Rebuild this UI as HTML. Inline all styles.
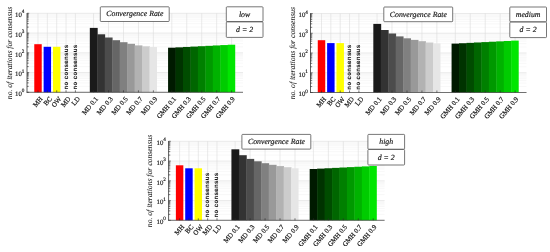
<!DOCTYPE html>
<html><head><meta charset="utf-8"><title>Convergence Rate</title>
<style>
html,body{margin:0;padding:0;background:#fff;}
svg{display:block;}
.mg{stroke:#f1f1f1;stroke-width:0.5;}
.Mg{stroke:#dcdcdc;stroke-width:0.6;}
.ax{stroke:#333;stroke-width:0.8;}
.axb{stroke:#3c3c3c;stroke-width:0.7;}
.tk{stroke:#2a2a2a;stroke-width:0.6;}
.tk2{stroke:#222;stroke-width:0.6;}
.bx{fill:#fff;stroke:#4a4a4a;stroke-width:0.75;}
text{fill:#1a1a1a;stroke:#1a1a1a;stroke-width:0.18px;text-rendering:geometricPrecision;}
.bt{font-family:"Liberation Serif",serif;font-style:italic;font-size:7.8px;}
.yt{font-family:"Liberation Serif",serif;font-style:italic;font-size:7.65px;fill:#222;stroke-width:0.06px;}
.yl{font-family:"Liberation Serif",serif;font-size:6.8px;}
.ye{font-family:"Liberation Serif",serif;font-size:5.2px;}
.xl{font-family:"Liberation Serif",serif;font-size:6.8px;stroke-width:0.22px;}
.nc{font-family:"Liberation Sans",sans-serif;font-weight:bold;font-size:6.1px;letter-spacing:0.34px;fill:#111;stroke-width:0.05px;}
</style></head>
<body>
<svg width="550" height="252" viewBox="0 0 550 252">
<rect width="550" height="252" fill="#fff"/>
<g transform="translate(0.00,0.00)">
<line x1="27.0" x2="243.0" y1="86.35" y2="86.35" class="mg"/>
<line x1="27.0" x2="243.0" y1="82.88" y2="82.88" class="mg"/>
<line x1="27.0" x2="243.0" y1="80.41" y2="80.41" class="mg"/>
<line x1="27.0" x2="243.0" y1="78.50" y2="78.50" class="mg"/>
<line x1="27.0" x2="243.0" y1="76.93" y2="76.93" class="mg"/>
<line x1="27.0" x2="243.0" y1="75.61" y2="75.61" class="mg"/>
<line x1="27.0" x2="243.0" y1="74.46" y2="74.46" class="mg"/>
<line x1="27.0" x2="243.0" y1="73.45" y2="73.45" class="mg"/>
<line x1="27.0" x2="243.0" y1="66.60" y2="66.60" class="mg"/>
<line x1="27.0" x2="243.0" y1="63.13" y2="63.13" class="mg"/>
<line x1="27.0" x2="243.0" y1="60.66" y2="60.66" class="mg"/>
<line x1="27.0" x2="243.0" y1="58.75" y2="58.75" class="mg"/>
<line x1="27.0" x2="243.0" y1="57.18" y2="57.18" class="mg"/>
<line x1="27.0" x2="243.0" y1="55.86" y2="55.86" class="mg"/>
<line x1="27.0" x2="243.0" y1="54.71" y2="54.71" class="mg"/>
<line x1="27.0" x2="243.0" y1="53.70" y2="53.70" class="mg"/>
<line x1="27.0" x2="243.0" y1="46.85" y2="46.85" class="mg"/>
<line x1="27.0" x2="243.0" y1="43.38" y2="43.38" class="mg"/>
<line x1="27.0" x2="243.0" y1="40.91" y2="40.91" class="mg"/>
<line x1="27.0" x2="243.0" y1="39.00" y2="39.00" class="mg"/>
<line x1="27.0" x2="243.0" y1="37.43" y2="37.43" class="mg"/>
<line x1="27.0" x2="243.0" y1="36.11" y2="36.11" class="mg"/>
<line x1="27.0" x2="243.0" y1="34.96" y2="34.96" class="mg"/>
<line x1="27.0" x2="243.0" y1="33.95" y2="33.95" class="mg"/>
<line x1="27.0" x2="243.0" y1="27.10" y2="27.10" class="mg"/>
<line x1="27.0" x2="243.0" y1="23.63" y2="23.63" class="mg"/>
<line x1="27.0" x2="243.0" y1="21.16" y2="21.16" class="mg"/>
<line x1="27.0" x2="243.0" y1="19.25" y2="19.25" class="mg"/>
<line x1="27.0" x2="243.0" y1="17.68" y2="17.68" class="mg"/>
<line x1="27.0" x2="243.0" y1="16.36" y2="16.36" class="mg"/>
<line x1="27.0" x2="243.0" y1="15.21" y2="15.21" class="mg"/>
<line x1="27.0" x2="243.0" y1="14.20" y2="14.20" class="mg"/>
<line x1="27.0" x2="243.0" y1="92.30" y2="92.30" class="Mg"/>
<line x1="27.0" x2="243.0" y1="72.55" y2="72.55" class="Mg"/>
<line x1="27.0" x2="243.0" y1="52.80" y2="52.80" class="Mg"/>
<line x1="27.0" x2="243.0" y1="33.05" y2="33.05" class="Mg"/>
<line x1="27.0" x2="243.0" y1="13.30" y2="13.30" class="Mg"/>
<line x1="38.00" x2="38.00" y1="13.3" y2="92.3" class="Mg"/>
<line x1="47.35" x2="47.35" y1="13.3" y2="92.3" class="Mg"/>
<line x1="56.70" x2="56.70" y1="13.3" y2="92.3" class="Mg"/>
<line x1="66.05" x2="66.05" y1="13.3" y2="92.3" class="Mg"/>
<line x1="75.40" x2="75.40" y1="13.3" y2="92.3" class="Mg"/>
<line x1="93.55" x2="93.55" y1="13.3" y2="92.3" class="Mg"/>
<line x1="108.51" x2="108.51" y1="13.3" y2="92.3" class="Mg"/>
<line x1="123.47" x2="123.47" y1="13.3" y2="92.3" class="Mg"/>
<line x1="138.43" x2="138.43" y1="13.3" y2="92.3" class="Mg"/>
<line x1="153.39" x2="153.39" y1="13.3" y2="92.3" class="Mg"/>
<line x1="171.80" x2="171.80" y1="13.3" y2="92.3" class="Mg"/>
<line x1="186.76" x2="186.76" y1="13.3" y2="92.3" class="Mg"/>
<line x1="201.72" x2="201.72" y1="13.3" y2="92.3" class="Mg"/>
<line x1="216.68" x2="216.68" y1="13.3" y2="92.3" class="Mg"/>
<line x1="231.64" x2="231.64" y1="13.3" y2="92.3" class="Mg"/>
<rect x="34.27" y="44.20" width="7.46" height="48.10" fill="#ff0000"/>
<rect x="43.62" y="46.80" width="7.46" height="45.50" fill="#0000ff"/>
<rect x="52.97" y="46.80" width="7.46" height="45.50" fill="#ffff00"/>
<rect x="89.82" y="27.90" width="7.86" height="64.40" fill="rgb(26,26,26)"/>
<rect x="97.28" y="34.30" width="7.86" height="58.00" fill="rgb(51,51,51)"/>
<rect x="104.74" y="37.50" width="7.86" height="54.80" fill="rgb(76,76,76)"/>
<rect x="112.20" y="40.20" width="7.86" height="52.10" fill="rgb(102,102,102)"/>
<rect x="119.66" y="42.20" width="7.86" height="50.10" fill="rgb(128,128,128)"/>
<rect x="127.12" y="43.80" width="7.86" height="48.50" fill="rgb(153,153,153)"/>
<rect x="134.58" y="45.40" width="7.86" height="46.90" fill="rgb(178,178,178)"/>
<rect x="142.04" y="46.30" width="7.86" height="46.00" fill="rgb(204,204,204)"/>
<rect x="149.50" y="47.00" width="7.46" height="45.30" fill="rgb(230,230,230)"/>
<rect x="168.07" y="47.70" width="7.86" height="44.60" fill="rgb(0,26,0)"/>
<rect x="175.53" y="47.33" width="7.86" height="44.97" fill="rgb(0,51,0)"/>
<rect x="182.99" y="46.95" width="7.86" height="45.35" fill="rgb(0,76,0)"/>
<rect x="190.45" y="46.58" width="7.86" height="45.72" fill="rgb(0,102,0)"/>
<rect x="197.91" y="46.20" width="7.86" height="46.10" fill="rgb(0,128,0)"/>
<rect x="205.37" y="45.83" width="7.86" height="46.47" fill="rgb(0,153,0)"/>
<rect x="212.83" y="45.45" width="7.86" height="46.85" fill="rgb(0,178,0)"/>
<rect x="220.29" y="45.08" width="7.86" height="47.22" fill="rgb(0,204,0)"/>
<rect x="227.75" y="44.70" width="7.46" height="47.60" fill="rgb(0,230,0)"/>
<text class="nc" transform="translate(67.55,89.45) rotate(-90)">no consensus</text>
<text class="nc" transform="translate(76.65,89.45) rotate(-90)">no consensus</text>
<line x1="27.0" x2="27.0" y1="13.0" y2="92.64999999999999" class="ax"/>
<line x1="26.6" x2="243.0" y1="92.3" y2="92.3" class="axb"/>
<line x1="27.0" x2="29.2" y1="92.30" y2="92.30" class="tk"/>
<text class="yl" x="21.80" y="96.15" text-anchor="end">10</text>
<text class="ye" x="21.70" y="92.35">0</text>
<line x1="27.0" x2="29.2" y1="72.55" y2="72.55" class="tk"/>
<text class="yl" x="21.80" y="76.40" text-anchor="end">10</text>
<text class="ye" x="21.70" y="72.60">1</text>
<line x1="27.0" x2="29.2" y1="52.80" y2="52.80" class="tk"/>
<text class="yl" x="21.80" y="56.65" text-anchor="end">10</text>
<text class="ye" x="21.70" y="52.85">2</text>
<line x1="27.0" x2="29.2" y1="33.05" y2="33.05" class="tk"/>
<text class="yl" x="21.80" y="36.90" text-anchor="end">10</text>
<text class="ye" x="21.70" y="33.10">3</text>
<line x1="27.0" x2="29.2" y1="13.30" y2="13.30" class="tk"/>
<text class="yl" x="21.80" y="17.15" text-anchor="end">10</text>
<text class="ye" x="21.70" y="13.35">4</text>
<line x1="27.0" x2="28.7" y1="86.35" y2="86.35" class="tk2"/>
<line x1="27.0" x2="28.7" y1="82.88" y2="82.88" class="tk2"/>
<line x1="27.0" x2="28.7" y1="80.41" y2="80.41" class="tk2"/>
<line x1="27.0" x2="28.7" y1="78.50" y2="78.50" class="tk2"/>
<line x1="27.0" x2="28.7" y1="76.93" y2="76.93" class="tk2"/>
<line x1="27.0" x2="28.7" y1="75.61" y2="75.61" class="tk2"/>
<line x1="27.0" x2="28.7" y1="74.46" y2="74.46" class="tk2"/>
<line x1="27.0" x2="28.7" y1="73.45" y2="73.45" class="tk2"/>
<line x1="27.0" x2="28.7" y1="66.60" y2="66.60" class="tk2"/>
<line x1="27.0" x2="28.7" y1="63.13" y2="63.13" class="tk2"/>
<line x1="27.0" x2="28.7" y1="60.66" y2="60.66" class="tk2"/>
<line x1="27.0" x2="28.7" y1="58.75" y2="58.75" class="tk2"/>
<line x1="27.0" x2="28.7" y1="57.18" y2="57.18" class="tk2"/>
<line x1="27.0" x2="28.7" y1="55.86" y2="55.86" class="tk2"/>
<line x1="27.0" x2="28.7" y1="54.71" y2="54.71" class="tk2"/>
<line x1="27.0" x2="28.7" y1="53.70" y2="53.70" class="tk2"/>
<line x1="27.0" x2="28.7" y1="46.85" y2="46.85" class="tk2"/>
<line x1="27.0" x2="28.7" y1="43.38" y2="43.38" class="tk2"/>
<line x1="27.0" x2="28.7" y1="40.91" y2="40.91" class="tk2"/>
<line x1="27.0" x2="28.7" y1="39.00" y2="39.00" class="tk2"/>
<line x1="27.0" x2="28.7" y1="37.43" y2="37.43" class="tk2"/>
<line x1="27.0" x2="28.7" y1="36.11" y2="36.11" class="tk2"/>
<line x1="27.0" x2="28.7" y1="34.96" y2="34.96" class="tk2"/>
<line x1="27.0" x2="28.7" y1="33.95" y2="33.95" class="tk2"/>
<line x1="27.0" x2="28.7" y1="27.10" y2="27.10" class="tk2"/>
<line x1="27.0" x2="28.7" y1="23.63" y2="23.63" class="tk2"/>
<line x1="27.0" x2="28.7" y1="21.16" y2="21.16" class="tk2"/>
<line x1="27.0" x2="28.7" y1="19.25" y2="19.25" class="tk2"/>
<line x1="27.0" x2="28.7" y1="17.68" y2="17.68" class="tk2"/>
<line x1="27.0" x2="28.7" y1="16.36" y2="16.36" class="tk2"/>
<line x1="27.0" x2="28.7" y1="15.21" y2="15.21" class="tk2"/>
<line x1="27.0" x2="28.7" y1="14.20" y2="14.20" class="tk2"/>
<line x1="38.00" x2="38.00" y1="92.3" y2="90.3" class="tk"/>
<text class="xl" text-anchor="end" transform="translate(43.00,99.10) rotate(-50)">MH</text>
<line x1="47.35" x2="47.35" y1="92.3" y2="90.3" class="tk"/>
<text class="xl" text-anchor="end" transform="translate(52.35,99.10) rotate(-50)">BC</text>
<line x1="56.70" x2="56.70" y1="92.3" y2="90.3" class="tk"/>
<text class="xl" text-anchor="end" transform="translate(61.70,99.10) rotate(-50)">OW</text>
<line x1="66.05" x2="66.05" y1="92.3" y2="90.3" class="tk"/>
<text class="xl" text-anchor="end" transform="translate(70.95,99.10) rotate(-50)">MD</text>
<line x1="75.40" x2="75.40" y1="92.3" y2="90.3" class="tk"/>
<text class="xl" text-anchor="end" transform="translate(80.30,99.10) rotate(-50)">LD</text>
<line x1="93.55" x2="93.55" y1="92.3" y2="90.3" class="tk"/>
<text class="xl" text-anchor="end" transform="translate(98.55,99.10) rotate(-50)">MD 0.1</text>
<line x1="108.51" x2="108.51" y1="92.3" y2="90.3" class="tk"/>
<text class="xl" text-anchor="end" transform="translate(113.31,99.10) rotate(-50)">MD 0.3</text>
<line x1="123.47" x2="123.47" y1="92.3" y2="90.3" class="tk"/>
<text class="xl" text-anchor="end" transform="translate(128.07,99.10) rotate(-50)">MD 0.5</text>
<line x1="138.43" x2="138.43" y1="92.3" y2="90.3" class="tk"/>
<text class="xl" text-anchor="end" transform="translate(142.83,99.10) rotate(-50)">MD 0.7</text>
<line x1="153.39" x2="153.39" y1="92.3" y2="90.3" class="tk"/>
<text class="xl" text-anchor="end" transform="translate(157.59,99.10) rotate(-50)">MD 0.9</text>
<line x1="171.80" x2="171.80" y1="92.3" y2="90.3" class="tk"/>
<text class="xl" text-anchor="end" transform="translate(176.40,99.10) rotate(-50)">GMH 0.1</text>
<line x1="186.76" x2="186.76" y1="92.3" y2="90.3" class="tk"/>
<text class="xl" text-anchor="end" transform="translate(191.16,99.10) rotate(-50)">GMH 0.3</text>
<line x1="201.72" x2="201.72" y1="92.3" y2="90.3" class="tk"/>
<text class="xl" text-anchor="end" transform="translate(205.82,99.10) rotate(-50)">GMH 0.5</text>
<line x1="216.68" x2="216.68" y1="92.3" y2="90.3" class="tk"/>
<text class="xl" text-anchor="end" transform="translate(220.58,99.10) rotate(-50)">GMH 0.7</text>
<line x1="231.64" x2="231.64" y1="92.3" y2="90.3" class="tk"/>
<text class="xl" text-anchor="end" transform="translate(235.24,99.10) rotate(-50)">GMH 0.9</text>
<text class="yt" text-anchor="middle" transform="translate(11.90,53.0) rotate(-90)">no. of iterations for consensus</text>
<g transform="translate(0,0.0)">
<rect x="100.3" y="6.8" width="68.9" height="14.7" rx="0.8" class="bx"/>
<text class="bt" text-anchor="middle" x="134.9" y="16.45">Convergence Rate</text>
<rect x="226.3" y="6.8" width="36.7" height="14.8" rx="0.8" class="bx"/>
<rect x="226.3" y="21.9" width="36.7" height="15.5" rx="0.8" class="bx"/>
<text class="bt" text-anchor="middle" x="244.6" y="16.5">low</text>
<text class="bt" text-anchor="middle" x="244.6" y="32.0">d = 2</text>
</g>
</g>
<g transform="translate(283.50,0.20)">
<line x1="27.0" x2="243.0" y1="86.35" y2="86.35" class="mg"/>
<line x1="27.0" x2="243.0" y1="82.88" y2="82.88" class="mg"/>
<line x1="27.0" x2="243.0" y1="80.41" y2="80.41" class="mg"/>
<line x1="27.0" x2="243.0" y1="78.50" y2="78.50" class="mg"/>
<line x1="27.0" x2="243.0" y1="76.93" y2="76.93" class="mg"/>
<line x1="27.0" x2="243.0" y1="75.61" y2="75.61" class="mg"/>
<line x1="27.0" x2="243.0" y1="74.46" y2="74.46" class="mg"/>
<line x1="27.0" x2="243.0" y1="73.45" y2="73.45" class="mg"/>
<line x1="27.0" x2="243.0" y1="66.60" y2="66.60" class="mg"/>
<line x1="27.0" x2="243.0" y1="63.13" y2="63.13" class="mg"/>
<line x1="27.0" x2="243.0" y1="60.66" y2="60.66" class="mg"/>
<line x1="27.0" x2="243.0" y1="58.75" y2="58.75" class="mg"/>
<line x1="27.0" x2="243.0" y1="57.18" y2="57.18" class="mg"/>
<line x1="27.0" x2="243.0" y1="55.86" y2="55.86" class="mg"/>
<line x1="27.0" x2="243.0" y1="54.71" y2="54.71" class="mg"/>
<line x1="27.0" x2="243.0" y1="53.70" y2="53.70" class="mg"/>
<line x1="27.0" x2="243.0" y1="46.85" y2="46.85" class="mg"/>
<line x1="27.0" x2="243.0" y1="43.38" y2="43.38" class="mg"/>
<line x1="27.0" x2="243.0" y1="40.91" y2="40.91" class="mg"/>
<line x1="27.0" x2="243.0" y1="39.00" y2="39.00" class="mg"/>
<line x1="27.0" x2="243.0" y1="37.43" y2="37.43" class="mg"/>
<line x1="27.0" x2="243.0" y1="36.11" y2="36.11" class="mg"/>
<line x1="27.0" x2="243.0" y1="34.96" y2="34.96" class="mg"/>
<line x1="27.0" x2="243.0" y1="33.95" y2="33.95" class="mg"/>
<line x1="27.0" x2="243.0" y1="27.10" y2="27.10" class="mg"/>
<line x1="27.0" x2="243.0" y1="23.63" y2="23.63" class="mg"/>
<line x1="27.0" x2="243.0" y1="21.16" y2="21.16" class="mg"/>
<line x1="27.0" x2="243.0" y1="19.25" y2="19.25" class="mg"/>
<line x1="27.0" x2="243.0" y1="17.68" y2="17.68" class="mg"/>
<line x1="27.0" x2="243.0" y1="16.36" y2="16.36" class="mg"/>
<line x1="27.0" x2="243.0" y1="15.21" y2="15.21" class="mg"/>
<line x1="27.0" x2="243.0" y1="14.20" y2="14.20" class="mg"/>
<line x1="27.0" x2="243.0" y1="92.30" y2="92.30" class="Mg"/>
<line x1="27.0" x2="243.0" y1="72.55" y2="72.55" class="Mg"/>
<line x1="27.0" x2="243.0" y1="52.80" y2="52.80" class="Mg"/>
<line x1="27.0" x2="243.0" y1="33.05" y2="33.05" class="Mg"/>
<line x1="27.0" x2="243.0" y1="13.30" y2="13.30" class="Mg"/>
<line x1="38.00" x2="38.00" y1="13.3" y2="92.3" class="Mg"/>
<line x1="47.35" x2="47.35" y1="13.3" y2="92.3" class="Mg"/>
<line x1="56.70" x2="56.70" y1="13.3" y2="92.3" class="Mg"/>
<line x1="66.05" x2="66.05" y1="13.3" y2="92.3" class="Mg"/>
<line x1="75.40" x2="75.40" y1="13.3" y2="92.3" class="Mg"/>
<line x1="93.55" x2="93.55" y1="13.3" y2="92.3" class="Mg"/>
<line x1="108.51" x2="108.51" y1="13.3" y2="92.3" class="Mg"/>
<line x1="123.47" x2="123.47" y1="13.3" y2="92.3" class="Mg"/>
<line x1="138.43" x2="138.43" y1="13.3" y2="92.3" class="Mg"/>
<line x1="153.39" x2="153.39" y1="13.3" y2="92.3" class="Mg"/>
<line x1="171.80" x2="171.80" y1="13.3" y2="92.3" class="Mg"/>
<line x1="186.76" x2="186.76" y1="13.3" y2="92.3" class="Mg"/>
<line x1="201.72" x2="201.72" y1="13.3" y2="92.3" class="Mg"/>
<line x1="216.68" x2="216.68" y1="13.3" y2="92.3" class="Mg"/>
<line x1="231.64" x2="231.64" y1="13.3" y2="92.3" class="Mg"/>
<rect x="34.27" y="40.00" width="7.46" height="52.30" fill="#ff0000"/>
<rect x="43.62" y="42.90" width="7.46" height="49.40" fill="#0000ff"/>
<rect x="52.97" y="42.90" width="7.46" height="49.40" fill="#ffff00"/>
<rect x="89.82" y="23.70" width="7.86" height="68.60" fill="rgb(26,26,26)"/>
<rect x="97.28" y="29.80" width="7.86" height="62.50" fill="rgb(51,51,51)"/>
<rect x="104.74" y="33.30" width="7.86" height="59.00" fill="rgb(76,76,76)"/>
<rect x="112.20" y="36.20" width="7.86" height="56.10" fill="rgb(102,102,102)"/>
<rect x="119.66" y="38.10" width="7.86" height="54.20" fill="rgb(128,128,128)"/>
<rect x="127.12" y="39.70" width="7.86" height="52.60" fill="rgb(153,153,153)"/>
<rect x="134.58" y="41.00" width="7.86" height="51.30" fill="rgb(178,178,178)"/>
<rect x="142.04" y="42.30" width="7.86" height="50.00" fill="rgb(204,204,204)"/>
<rect x="149.50" y="43.20" width="7.46" height="49.10" fill="rgb(230,230,230)"/>
<rect x="168.07" y="43.40" width="7.86" height="48.90" fill="rgb(0,26,0)"/>
<rect x="175.53" y="43.02" width="7.86" height="49.27" fill="rgb(0,51,0)"/>
<rect x="182.99" y="42.65" width="7.86" height="49.65" fill="rgb(0,76,0)"/>
<rect x="190.45" y="42.27" width="7.86" height="50.02" fill="rgb(0,102,0)"/>
<rect x="197.91" y="41.90" width="7.86" height="50.40" fill="rgb(0,128,0)"/>
<rect x="205.37" y="41.52" width="7.86" height="50.77" fill="rgb(0,153,0)"/>
<rect x="212.83" y="41.15" width="7.86" height="51.15" fill="rgb(0,178,0)"/>
<rect x="220.29" y="40.77" width="7.86" height="51.52" fill="rgb(0,204,0)"/>
<rect x="227.75" y="40.40" width="7.46" height="51.90" fill="rgb(0,230,0)"/>
<text class="nc" transform="translate(67.55,89.45) rotate(-90)">no consensus</text>
<text class="nc" transform="translate(76.65,89.45) rotate(-90)">no consensus</text>
<line x1="27.0" x2="27.0" y1="13.0" y2="92.64999999999999" class="ax"/>
<line x1="26.6" x2="243.0" y1="92.3" y2="92.3" class="axb"/>
<line x1="27.0" x2="29.2" y1="92.30" y2="92.30" class="tk"/>
<text class="yl" x="21.80" y="96.15" text-anchor="end">10</text>
<text class="ye" x="21.70" y="92.35">0</text>
<line x1="27.0" x2="29.2" y1="72.55" y2="72.55" class="tk"/>
<text class="yl" x="21.80" y="76.40" text-anchor="end">10</text>
<text class="ye" x="21.70" y="72.60">1</text>
<line x1="27.0" x2="29.2" y1="52.80" y2="52.80" class="tk"/>
<text class="yl" x="21.80" y="56.65" text-anchor="end">10</text>
<text class="ye" x="21.70" y="52.85">2</text>
<line x1="27.0" x2="29.2" y1="33.05" y2="33.05" class="tk"/>
<text class="yl" x="21.80" y="36.90" text-anchor="end">10</text>
<text class="ye" x="21.70" y="33.10">3</text>
<line x1="27.0" x2="29.2" y1="13.30" y2="13.30" class="tk"/>
<text class="yl" x="21.80" y="17.15" text-anchor="end">10</text>
<text class="ye" x="21.70" y="13.35">4</text>
<line x1="27.0" x2="28.7" y1="86.35" y2="86.35" class="tk2"/>
<line x1="27.0" x2="28.7" y1="82.88" y2="82.88" class="tk2"/>
<line x1="27.0" x2="28.7" y1="80.41" y2="80.41" class="tk2"/>
<line x1="27.0" x2="28.7" y1="78.50" y2="78.50" class="tk2"/>
<line x1="27.0" x2="28.7" y1="76.93" y2="76.93" class="tk2"/>
<line x1="27.0" x2="28.7" y1="75.61" y2="75.61" class="tk2"/>
<line x1="27.0" x2="28.7" y1="74.46" y2="74.46" class="tk2"/>
<line x1="27.0" x2="28.7" y1="73.45" y2="73.45" class="tk2"/>
<line x1="27.0" x2="28.7" y1="66.60" y2="66.60" class="tk2"/>
<line x1="27.0" x2="28.7" y1="63.13" y2="63.13" class="tk2"/>
<line x1="27.0" x2="28.7" y1="60.66" y2="60.66" class="tk2"/>
<line x1="27.0" x2="28.7" y1="58.75" y2="58.75" class="tk2"/>
<line x1="27.0" x2="28.7" y1="57.18" y2="57.18" class="tk2"/>
<line x1="27.0" x2="28.7" y1="55.86" y2="55.86" class="tk2"/>
<line x1="27.0" x2="28.7" y1="54.71" y2="54.71" class="tk2"/>
<line x1="27.0" x2="28.7" y1="53.70" y2="53.70" class="tk2"/>
<line x1="27.0" x2="28.7" y1="46.85" y2="46.85" class="tk2"/>
<line x1="27.0" x2="28.7" y1="43.38" y2="43.38" class="tk2"/>
<line x1="27.0" x2="28.7" y1="40.91" y2="40.91" class="tk2"/>
<line x1="27.0" x2="28.7" y1="39.00" y2="39.00" class="tk2"/>
<line x1="27.0" x2="28.7" y1="37.43" y2="37.43" class="tk2"/>
<line x1="27.0" x2="28.7" y1="36.11" y2="36.11" class="tk2"/>
<line x1="27.0" x2="28.7" y1="34.96" y2="34.96" class="tk2"/>
<line x1="27.0" x2="28.7" y1="33.95" y2="33.95" class="tk2"/>
<line x1="27.0" x2="28.7" y1="27.10" y2="27.10" class="tk2"/>
<line x1="27.0" x2="28.7" y1="23.63" y2="23.63" class="tk2"/>
<line x1="27.0" x2="28.7" y1="21.16" y2="21.16" class="tk2"/>
<line x1="27.0" x2="28.7" y1="19.25" y2="19.25" class="tk2"/>
<line x1="27.0" x2="28.7" y1="17.68" y2="17.68" class="tk2"/>
<line x1="27.0" x2="28.7" y1="16.36" y2="16.36" class="tk2"/>
<line x1="27.0" x2="28.7" y1="15.21" y2="15.21" class="tk2"/>
<line x1="27.0" x2="28.7" y1="14.20" y2="14.20" class="tk2"/>
<line x1="38.00" x2="38.00" y1="92.3" y2="90.3" class="tk"/>
<text class="xl" text-anchor="end" transform="translate(43.00,99.10) rotate(-50)">MH</text>
<line x1="47.35" x2="47.35" y1="92.3" y2="90.3" class="tk"/>
<text class="xl" text-anchor="end" transform="translate(52.35,99.10) rotate(-50)">BC</text>
<line x1="56.70" x2="56.70" y1="92.3" y2="90.3" class="tk"/>
<text class="xl" text-anchor="end" transform="translate(61.70,99.10) rotate(-50)">OW</text>
<line x1="66.05" x2="66.05" y1="92.3" y2="90.3" class="tk"/>
<text class="xl" text-anchor="end" transform="translate(70.95,99.10) rotate(-50)">MD</text>
<line x1="75.40" x2="75.40" y1="92.3" y2="90.3" class="tk"/>
<text class="xl" text-anchor="end" transform="translate(80.30,99.10) rotate(-50)">LD</text>
<line x1="93.55" x2="93.55" y1="92.3" y2="90.3" class="tk"/>
<text class="xl" text-anchor="end" transform="translate(98.55,99.10) rotate(-50)">MD 0.1</text>
<line x1="108.51" x2="108.51" y1="92.3" y2="90.3" class="tk"/>
<text class="xl" text-anchor="end" transform="translate(113.31,99.10) rotate(-50)">MD 0.3</text>
<line x1="123.47" x2="123.47" y1="92.3" y2="90.3" class="tk"/>
<text class="xl" text-anchor="end" transform="translate(128.07,99.10) rotate(-50)">MD 0.5</text>
<line x1="138.43" x2="138.43" y1="92.3" y2="90.3" class="tk"/>
<text class="xl" text-anchor="end" transform="translate(142.83,99.10) rotate(-50)">MD 0.7</text>
<line x1="153.39" x2="153.39" y1="92.3" y2="90.3" class="tk"/>
<text class="xl" text-anchor="end" transform="translate(157.59,99.10) rotate(-50)">MD 0.9</text>
<line x1="171.80" x2="171.80" y1="92.3" y2="90.3" class="tk"/>
<text class="xl" text-anchor="end" transform="translate(176.40,99.10) rotate(-50)">GMH 0.1</text>
<line x1="186.76" x2="186.76" y1="92.3" y2="90.3" class="tk"/>
<text class="xl" text-anchor="end" transform="translate(191.16,99.10) rotate(-50)">GMH 0.3</text>
<line x1="201.72" x2="201.72" y1="92.3" y2="90.3" class="tk"/>
<text class="xl" text-anchor="end" transform="translate(205.82,99.10) rotate(-50)">GMH 0.5</text>
<line x1="216.68" x2="216.68" y1="92.3" y2="90.3" class="tk"/>
<text class="xl" text-anchor="end" transform="translate(220.58,99.10) rotate(-50)">GMH 0.7</text>
<line x1="231.64" x2="231.64" y1="92.3" y2="90.3" class="tk"/>
<text class="xl" text-anchor="end" transform="translate(235.24,99.10) rotate(-50)">GMH 0.9</text>
<text class="yt" text-anchor="middle" transform="translate(11.10,53.0) rotate(-90)">no. of iterations for consensus</text>
<g transform="translate(0,0.0)">
<rect x="100.3" y="6.8" width="68.9" height="14.7" rx="0.8" class="bx"/>
<text class="bt" text-anchor="middle" x="134.9" y="16.45">Convergence Rate</text>
<rect x="226.3" y="6.8" width="36.7" height="14.8" rx="0.8" class="bx"/>
<rect x="226.3" y="21.9" width="36.7" height="15.5" rx="0.8" class="bx"/>
<text class="bt" text-anchor="middle" x="244.6" y="16.5">medium</text>
<text class="bt" text-anchor="middle" x="244.6" y="32.0">d = 2</text>
</g>
</g>
<g transform="translate(141.60,128.00)">
<line x1="27.0" x2="243.0" y1="86.35" y2="86.35" class="mg"/>
<line x1="27.0" x2="243.0" y1="82.88" y2="82.88" class="mg"/>
<line x1="27.0" x2="243.0" y1="80.41" y2="80.41" class="mg"/>
<line x1="27.0" x2="243.0" y1="78.50" y2="78.50" class="mg"/>
<line x1="27.0" x2="243.0" y1="76.93" y2="76.93" class="mg"/>
<line x1="27.0" x2="243.0" y1="75.61" y2="75.61" class="mg"/>
<line x1="27.0" x2="243.0" y1="74.46" y2="74.46" class="mg"/>
<line x1="27.0" x2="243.0" y1="73.45" y2="73.45" class="mg"/>
<line x1="27.0" x2="243.0" y1="66.60" y2="66.60" class="mg"/>
<line x1="27.0" x2="243.0" y1="63.13" y2="63.13" class="mg"/>
<line x1="27.0" x2="243.0" y1="60.66" y2="60.66" class="mg"/>
<line x1="27.0" x2="243.0" y1="58.75" y2="58.75" class="mg"/>
<line x1="27.0" x2="243.0" y1="57.18" y2="57.18" class="mg"/>
<line x1="27.0" x2="243.0" y1="55.86" y2="55.86" class="mg"/>
<line x1="27.0" x2="243.0" y1="54.71" y2="54.71" class="mg"/>
<line x1="27.0" x2="243.0" y1="53.70" y2="53.70" class="mg"/>
<line x1="27.0" x2="243.0" y1="46.85" y2="46.85" class="mg"/>
<line x1="27.0" x2="243.0" y1="43.38" y2="43.38" class="mg"/>
<line x1="27.0" x2="243.0" y1="40.91" y2="40.91" class="mg"/>
<line x1="27.0" x2="243.0" y1="39.00" y2="39.00" class="mg"/>
<line x1="27.0" x2="243.0" y1="37.43" y2="37.43" class="mg"/>
<line x1="27.0" x2="243.0" y1="36.11" y2="36.11" class="mg"/>
<line x1="27.0" x2="243.0" y1="34.96" y2="34.96" class="mg"/>
<line x1="27.0" x2="243.0" y1="33.95" y2="33.95" class="mg"/>
<line x1="27.0" x2="243.0" y1="27.10" y2="27.10" class="mg"/>
<line x1="27.0" x2="243.0" y1="23.63" y2="23.63" class="mg"/>
<line x1="27.0" x2="243.0" y1="21.16" y2="21.16" class="mg"/>
<line x1="27.0" x2="243.0" y1="19.25" y2="19.25" class="mg"/>
<line x1="27.0" x2="243.0" y1="17.68" y2="17.68" class="mg"/>
<line x1="27.0" x2="243.0" y1="16.36" y2="16.36" class="mg"/>
<line x1="27.0" x2="243.0" y1="15.21" y2="15.21" class="mg"/>
<line x1="27.0" x2="243.0" y1="14.20" y2="14.20" class="mg"/>
<line x1="27.0" x2="243.0" y1="92.30" y2="92.30" class="Mg"/>
<line x1="27.0" x2="243.0" y1="72.55" y2="72.55" class="Mg"/>
<line x1="27.0" x2="243.0" y1="52.80" y2="52.80" class="Mg"/>
<line x1="27.0" x2="243.0" y1="33.05" y2="33.05" class="Mg"/>
<line x1="27.0" x2="243.0" y1="13.30" y2="13.30" class="Mg"/>
<line x1="38.00" x2="38.00" y1="13.3" y2="92.3" class="Mg"/>
<line x1="47.35" x2="47.35" y1="13.3" y2="92.3" class="Mg"/>
<line x1="56.70" x2="56.70" y1="13.3" y2="92.3" class="Mg"/>
<line x1="66.05" x2="66.05" y1="13.3" y2="92.3" class="Mg"/>
<line x1="75.40" x2="75.40" y1="13.3" y2="92.3" class="Mg"/>
<line x1="93.55" x2="93.55" y1="13.3" y2="92.3" class="Mg"/>
<line x1="108.51" x2="108.51" y1="13.3" y2="92.3" class="Mg"/>
<line x1="123.47" x2="123.47" y1="13.3" y2="92.3" class="Mg"/>
<line x1="138.43" x2="138.43" y1="13.3" y2="92.3" class="Mg"/>
<line x1="153.39" x2="153.39" y1="13.3" y2="92.3" class="Mg"/>
<line x1="171.80" x2="171.80" y1="13.3" y2="92.3" class="Mg"/>
<line x1="186.76" x2="186.76" y1="13.3" y2="92.3" class="Mg"/>
<line x1="201.72" x2="201.72" y1="13.3" y2="92.3" class="Mg"/>
<line x1="216.68" x2="216.68" y1="13.3" y2="92.3" class="Mg"/>
<line x1="231.64" x2="231.64" y1="13.3" y2="92.3" class="Mg"/>
<rect x="34.27" y="37.30" width="7.46" height="55.00" fill="#ff0000"/>
<rect x="43.62" y="40.30" width="7.46" height="52.00" fill="#0000ff"/>
<rect x="52.97" y="40.30" width="7.46" height="52.00" fill="#ffff00"/>
<rect x="89.82" y="21.30" width="7.86" height="71.00" fill="rgb(26,26,26)"/>
<rect x="97.28" y="27.20" width="7.86" height="65.10" fill="rgb(51,51,51)"/>
<rect x="104.74" y="30.90" width="7.86" height="61.40" fill="rgb(76,76,76)"/>
<rect x="112.20" y="33.30" width="7.86" height="59.00" fill="rgb(102,102,102)"/>
<rect x="119.66" y="35.20" width="7.86" height="57.10" fill="rgb(128,128,128)"/>
<rect x="127.12" y="36.80" width="7.86" height="55.50" fill="rgb(153,153,153)"/>
<rect x="134.58" y="38.10" width="7.86" height="54.20" fill="rgb(178,178,178)"/>
<rect x="142.04" y="39.20" width="7.86" height="53.10" fill="rgb(204,204,204)"/>
<rect x="149.50" y="40.30" width="7.46" height="52.00" fill="rgb(230,230,230)"/>
<rect x="168.07" y="41.00" width="7.86" height="51.30" fill="rgb(0,26,0)"/>
<rect x="175.53" y="40.62" width="7.86" height="51.67" fill="rgb(0,51,0)"/>
<rect x="182.99" y="40.25" width="7.86" height="52.05" fill="rgb(0,76,0)"/>
<rect x="190.45" y="39.88" width="7.86" height="52.42" fill="rgb(0,102,0)"/>
<rect x="197.91" y="39.50" width="7.86" height="52.80" fill="rgb(0,128,0)"/>
<rect x="205.37" y="39.12" width="7.86" height="53.17" fill="rgb(0,153,0)"/>
<rect x="212.83" y="38.75" width="7.86" height="53.55" fill="rgb(0,178,0)"/>
<rect x="220.29" y="38.38" width="7.86" height="53.92" fill="rgb(0,204,0)"/>
<rect x="227.75" y="38.00" width="7.46" height="54.30" fill="rgb(0,230,0)"/>
<text class="nc" transform="translate(67.55,89.45) rotate(-90)">no consensus</text>
<text class="nc" transform="translate(76.65,89.45) rotate(-90)">no consensus</text>
<line x1="27.0" x2="27.0" y1="13.0" y2="92.64999999999999" class="ax"/>
<line x1="26.6" x2="243.0" y1="92.3" y2="92.3" class="axb"/>
<line x1="27.0" x2="29.2" y1="92.30" y2="92.30" class="tk"/>
<text class="yl" x="21.80" y="96.15" text-anchor="end">10</text>
<text class="ye" x="21.70" y="92.35">0</text>
<line x1="27.0" x2="29.2" y1="72.55" y2="72.55" class="tk"/>
<text class="yl" x="21.80" y="76.40" text-anchor="end">10</text>
<text class="ye" x="21.70" y="72.60">1</text>
<line x1="27.0" x2="29.2" y1="52.80" y2="52.80" class="tk"/>
<text class="yl" x="21.80" y="56.65" text-anchor="end">10</text>
<text class="ye" x="21.70" y="52.85">2</text>
<line x1="27.0" x2="29.2" y1="33.05" y2="33.05" class="tk"/>
<text class="yl" x="21.80" y="36.90" text-anchor="end">10</text>
<text class="ye" x="21.70" y="33.10">3</text>
<line x1="27.0" x2="29.2" y1="13.30" y2="13.30" class="tk"/>
<text class="yl" x="21.80" y="17.15" text-anchor="end">10</text>
<text class="ye" x="21.70" y="13.35">4</text>
<line x1="27.0" x2="28.7" y1="86.35" y2="86.35" class="tk2"/>
<line x1="27.0" x2="28.7" y1="82.88" y2="82.88" class="tk2"/>
<line x1="27.0" x2="28.7" y1="80.41" y2="80.41" class="tk2"/>
<line x1="27.0" x2="28.7" y1="78.50" y2="78.50" class="tk2"/>
<line x1="27.0" x2="28.7" y1="76.93" y2="76.93" class="tk2"/>
<line x1="27.0" x2="28.7" y1="75.61" y2="75.61" class="tk2"/>
<line x1="27.0" x2="28.7" y1="74.46" y2="74.46" class="tk2"/>
<line x1="27.0" x2="28.7" y1="73.45" y2="73.45" class="tk2"/>
<line x1="27.0" x2="28.7" y1="66.60" y2="66.60" class="tk2"/>
<line x1="27.0" x2="28.7" y1="63.13" y2="63.13" class="tk2"/>
<line x1="27.0" x2="28.7" y1="60.66" y2="60.66" class="tk2"/>
<line x1="27.0" x2="28.7" y1="58.75" y2="58.75" class="tk2"/>
<line x1="27.0" x2="28.7" y1="57.18" y2="57.18" class="tk2"/>
<line x1="27.0" x2="28.7" y1="55.86" y2="55.86" class="tk2"/>
<line x1="27.0" x2="28.7" y1="54.71" y2="54.71" class="tk2"/>
<line x1="27.0" x2="28.7" y1="53.70" y2="53.70" class="tk2"/>
<line x1="27.0" x2="28.7" y1="46.85" y2="46.85" class="tk2"/>
<line x1="27.0" x2="28.7" y1="43.38" y2="43.38" class="tk2"/>
<line x1="27.0" x2="28.7" y1="40.91" y2="40.91" class="tk2"/>
<line x1="27.0" x2="28.7" y1="39.00" y2="39.00" class="tk2"/>
<line x1="27.0" x2="28.7" y1="37.43" y2="37.43" class="tk2"/>
<line x1="27.0" x2="28.7" y1="36.11" y2="36.11" class="tk2"/>
<line x1="27.0" x2="28.7" y1="34.96" y2="34.96" class="tk2"/>
<line x1="27.0" x2="28.7" y1="33.95" y2="33.95" class="tk2"/>
<line x1="27.0" x2="28.7" y1="27.10" y2="27.10" class="tk2"/>
<line x1="27.0" x2="28.7" y1="23.63" y2="23.63" class="tk2"/>
<line x1="27.0" x2="28.7" y1="21.16" y2="21.16" class="tk2"/>
<line x1="27.0" x2="28.7" y1="19.25" y2="19.25" class="tk2"/>
<line x1="27.0" x2="28.7" y1="17.68" y2="17.68" class="tk2"/>
<line x1="27.0" x2="28.7" y1="16.36" y2="16.36" class="tk2"/>
<line x1="27.0" x2="28.7" y1="15.21" y2="15.21" class="tk2"/>
<line x1="27.0" x2="28.7" y1="14.20" y2="14.20" class="tk2"/>
<line x1="38.00" x2="38.00" y1="92.3" y2="90.3" class="tk"/>
<text class="xl" text-anchor="end" transform="translate(43.00,99.10) rotate(-50)">MH</text>
<line x1="47.35" x2="47.35" y1="92.3" y2="90.3" class="tk"/>
<text class="xl" text-anchor="end" transform="translate(52.35,99.10) rotate(-50)">BC</text>
<line x1="56.70" x2="56.70" y1="92.3" y2="90.3" class="tk"/>
<text class="xl" text-anchor="end" transform="translate(61.70,99.10) rotate(-50)">OW</text>
<line x1="66.05" x2="66.05" y1="92.3" y2="90.3" class="tk"/>
<text class="xl" text-anchor="end" transform="translate(70.95,99.10) rotate(-50)">MD</text>
<line x1="75.40" x2="75.40" y1="92.3" y2="90.3" class="tk"/>
<text class="xl" text-anchor="end" transform="translate(80.30,99.10) rotate(-50)">LD</text>
<line x1="93.55" x2="93.55" y1="92.3" y2="90.3" class="tk"/>
<text class="xl" text-anchor="end" transform="translate(98.55,99.10) rotate(-50)">MD 0.1</text>
<line x1="108.51" x2="108.51" y1="92.3" y2="90.3" class="tk"/>
<text class="xl" text-anchor="end" transform="translate(113.31,99.10) rotate(-50)">MD 0.3</text>
<line x1="123.47" x2="123.47" y1="92.3" y2="90.3" class="tk"/>
<text class="xl" text-anchor="end" transform="translate(128.07,99.10) rotate(-50)">MD 0.5</text>
<line x1="138.43" x2="138.43" y1="92.3" y2="90.3" class="tk"/>
<text class="xl" text-anchor="end" transform="translate(142.83,99.10) rotate(-50)">MD 0.7</text>
<line x1="153.39" x2="153.39" y1="92.3" y2="90.3" class="tk"/>
<text class="xl" text-anchor="end" transform="translate(157.59,99.10) rotate(-50)">MD 0.9</text>
<line x1="171.80" x2="171.80" y1="92.3" y2="90.3" class="tk"/>
<text class="xl" text-anchor="end" transform="translate(176.40,99.10) rotate(-50)">GMH 0.1</text>
<line x1="186.76" x2="186.76" y1="92.3" y2="90.3" class="tk"/>
<text class="xl" text-anchor="end" transform="translate(191.16,99.10) rotate(-50)">GMH 0.3</text>
<line x1="201.72" x2="201.72" y1="92.3" y2="90.3" class="tk"/>
<text class="xl" text-anchor="end" transform="translate(205.82,99.10) rotate(-50)">GMH 0.5</text>
<line x1="216.68" x2="216.68" y1="92.3" y2="90.3" class="tk"/>
<text class="xl" text-anchor="end" transform="translate(220.58,99.10) rotate(-50)">GMH 0.7</text>
<line x1="231.64" x2="231.64" y1="92.3" y2="90.3" class="tk"/>
<text class="xl" text-anchor="end" transform="translate(235.24,99.10) rotate(-50)">GMH 0.9</text>
<text class="yt" text-anchor="middle" transform="translate(10.60,53.0) rotate(-90)">no. of iterations for consensus</text>
<g transform="translate(0,-0.4)">
<rect x="100.3" y="6.8" width="68.9" height="14.7" rx="0.8" class="bx"/>
<text class="bt" text-anchor="middle" x="134.9" y="16.45">Convergence Rate</text>
<rect x="226.3" y="6.8" width="36.7" height="14.8" rx="0.8" class="bx"/>
<rect x="226.3" y="21.9" width="36.7" height="15.5" rx="0.8" class="bx"/>
<text class="bt" text-anchor="middle" x="244.6" y="16.5">high</text>
<text class="bt" text-anchor="middle" x="244.6" y="32.0">d = 2</text>
</g>
</g>
</svg>
</body></html>
